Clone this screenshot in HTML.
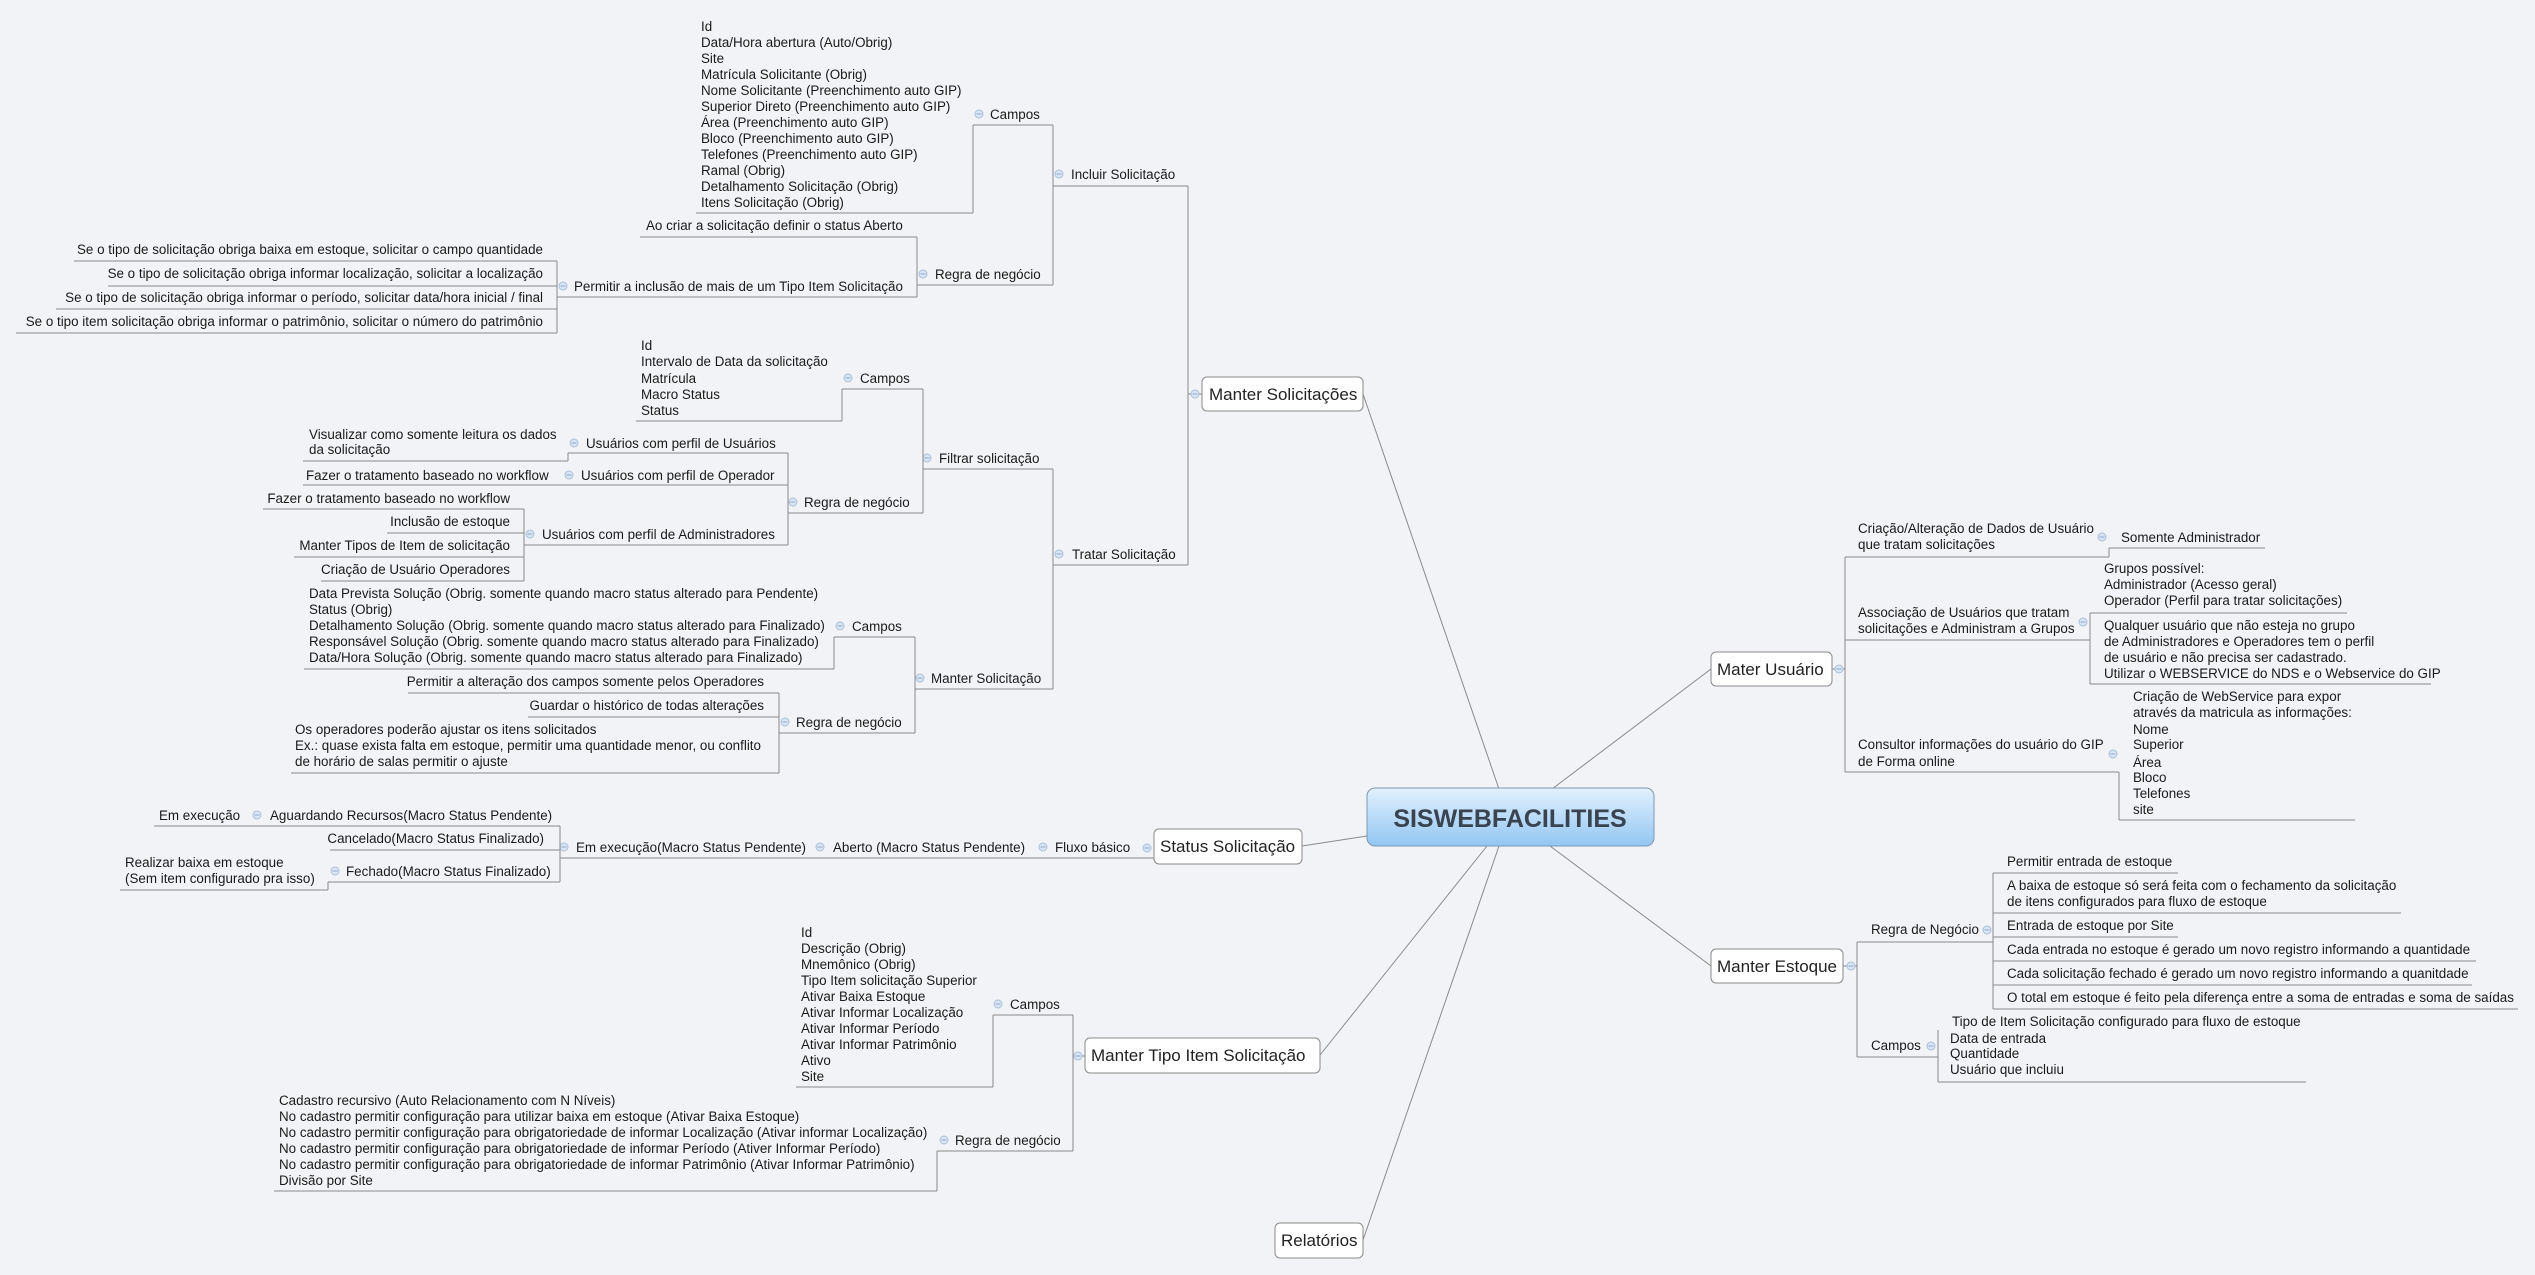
<!DOCTYPE html>
<html><head><meta charset="utf-8"><style>
html,body{margin:0;padding:0;background:#f2f3f6;}
svg{display:block;}
text{font-family:"Liberation Sans",sans-serif;font-size:13.4px;fill:#1a1a1a;}
.b{font-size:17px;fill:#222;}
.e{text-anchor:end;}
line,polyline{stroke:#8a8a8a;stroke-width:1;fill:none;}
.c{fill:#d9e5f3;stroke:#a8c0dc;stroke-width:1;}
.m{stroke:#8fa9c9;}
.box{fill:#fff;stroke:#8a8a8a;stroke-width:1;}
</style></head><body>
<svg width="2535" height="1275" viewBox="0 0 2535 1275" xmlns="http://www.w3.org/2000/svg">
<defs>
<linearGradient id="g" x1="0" y1="0" x2="0" y2="1"><stop offset="0" stop-color="#e2f1fe"/><stop offset="1" stop-color="#92c6f2"/></linearGradient>
<g id="ci"><circle class="c" r="4"/><line class="m" x1="-2.5" y1="0" x2="2.5" y2="0"/></g>
</defs>

<line x1="1363" y1="394" x2="1499" y2="789"/>
<line x1="1711" y1="669" x2="1552" y2="789"/>
<line x1="1302" y1="846" x2="1367" y2="836"/>
<line x1="1320" y1="1055" x2="1487" y2="846"/>
<line x1="1363" y1="1240" x2="1499" y2="846"/>
<line x1="1711" y1="966" x2="1550" y2="846"/>

<rect x="1367" y="788" width="287" height="58" rx="8" fill="url(#g)" stroke="#7d98b3"/>
<text x="1510" y="827" text-anchor="middle" style="font-size:25px;font-weight:bold;fill:#3a4450">SISWEBFACILITIES</text>

<rect class="box" x="1202" y="377" width="161" height="34" rx="5"/><text class="b" x="1209" y="400">Manter Solicitações</text>
<rect class="box" x="1154" y="829" width="148" height="35" rx="5"/><text class="b" x="1160" y="852">Status Solicitação</text>
<rect class="box" x="1085" y="1038" width="235" height="35" rx="5"/><text class="b" x="1091" y="1061">Manter Tipo Item Solicitação</text>
<rect class="box" x="1275" y="1223" width="88" height="35" rx="5"/><text class="b" x="1281" y="1246">Relatórios</text>
<rect class="box" x="1711" y="652" width="121" height="34" rx="5"/><text class="b" x="1717" y="675">Mater Usuário</text>
<rect class="box" x="1711" y="949" width="132" height="34" rx="5"/><text class="b" x="1717" y="972">Manter Estoque</text>

<line x1="1188" y1="186" x2="1188" y2="565"/>
<line x1="1188" y1="394" x2="1202" y2="394"/>
<use href="#ci" x="1195" y="394"/>
<line x1="1053" y1="186" x2="1188" y2="186"/>
<use href="#ci" x="1059" y="174"/><text x="1071" y="179">Incluir Solicitação</text>
<line x1="1053" y1="125" x2="1053" y2="285"/>
<line x1="973" y1="125" x2="1053" y2="125"/>
<use href="#ci" x="979" y="114"/><text x="990" y="119">Campos</text>
<line x1="973" y1="125" x2="973" y2="213"/>
<line x1="696" y1="213" x2="973" y2="213"/>
<text x="701" y="31">Id</text>
<text x="701" y="47">Data/Hora abertura (Auto/Obrig)</text>
<text x="701" y="63">Site</text>
<text x="701" y="79">Matrícula Solicitante (Obrig)</text>
<text x="701" y="95">Nome Solicitante (Preenchimento auto GIP)</text>
<text x="701" y="111">Superior Direto (Preenchimento auto GIP)</text>
<text x="701" y="127">Área (Preenchimento auto GIP)</text>
<text x="701" y="143">Bloco (Preenchimento auto GIP)</text>
<text x="701" y="159">Telefones (Preenchimento auto GIP)</text>
<text x="701" y="175">Ramal (Obrig)</text>
<text x="701" y="191">Detalhamento Solicitação (Obrig)</text>
<text x="701" y="207">Itens Solicitação (Obrig)</text>
<line x1="917" y1="285" x2="1053" y2="285"/>
<use href="#ci" x="923" y="274"/><text x="935" y="279">Regra de negócio</text>
<line x1="917" y1="237" x2="917" y2="297"/>
<line x1="640" y1="237" x2="917" y2="237"/>
<text x="646" y="230">Ao criar a solicitação definir o status Aberto</text>
<line x1="557" y1="297" x2="917" y2="297"/>
<use href="#ci" x="563" y="286"/><text x="574" y="291">Permitir a inclusão de mais de um Tipo Item Solicitação</text>
<line x1="557" y1="261" x2="557" y2="333"/>
<line x1="74" y1="261" x2="557" y2="261"/><text class="e" x="543" y="254">Se o tipo de solicitação obriga baixa em estoque, solicitar o campo quantidade</text>
<line x1="108" y1="286" x2="557" y2="286"/><text class="e" x="543" y="278">Se o tipo de solicitação obriga informar localização, solicitar a localização</text>
<line x1="56" y1="309" x2="557" y2="309"/><text class="e" x="543" y="302">Se o tipo de solicitação obriga informar o período, solicitar data/hora inicial / final</text>
<line x1="16" y1="333" x2="557" y2="333"/><text class="e" x="543" y="326">Se o tipo item solicitação obriga informar o patrimônio, solicitar o número do patrimônio</text>

<line x1="1053" y1="565" x2="1188" y2="565"/>
<use href="#ci" x="1059" y="554"/><text x="1072" y="559">Tratar Solicitação</text>
<line x1="1053" y1="469" x2="1053" y2="689"/>
<line x1="923" y1="469" x2="1053" y2="469"/>
<use href="#ci" x="927" y="458"/><text x="939" y="463">Filtrar solicitação</text>
<line x1="923" y1="389" x2="923" y2="513"/>
<line x1="842" y1="389" x2="923" y2="389"/>
<use href="#ci" x="848" y="378"/><text x="860" y="383">Campos</text>
<line x1="842" y1="389" x2="842" y2="421"/>
<line x1="636" y1="421" x2="842" y2="421"/>
<text x="641" y="350">Id</text>
<text x="641" y="366">Intervalo de Data da solicitação</text>
<text x="641" y="383">Matrícula</text>
<text x="641" y="399">Macro Status</text>
<text x="641" y="415">Status</text>
<line x1="788" y1="513" x2="923" y2="513"/>
<use href="#ci" x="793" y="502"/><text x="804" y="507">Regra de negócio</text>
<line x1="788" y1="453" x2="788" y2="545"/>
<line x1="568" y1="453" x2="788" y2="453"/>
<use href="#ci" x="574" y="443"/><text x="586" y="448">Usuários com perfil de Usuários</text>
<line x1="568" y1="453" x2="568" y2="461"/>
<line x1="303" y1="461" x2="568" y2="461"/>
<text x="309" y="439">Visualizar como somente leitura os dados</text>
<text x="309" y="454">da solicitação</text>
<line x1="303" y1="485" x2="788" y2="485"/>
<use href="#ci" x="569" y="475"/><text x="581" y="480">Usuários com perfil de Operador</text>
<text x="306" y="480">Fazer o tratamento baseado no workflow</text>
<line x1="524" y1="545" x2="788" y2="545"/>
<use href="#ci" x="530" y="534"/><text x="542" y="539">Usuários com perfil de Administradores</text>
<line x1="524" y1="509" x2="524" y2="581"/>
<line x1="263" y1="509" x2="524" y2="509"/><text class="e" x="510" y="503">Fazer o tratamento baseado no workflow</text>
<line x1="387" y1="533" x2="524" y2="533"/><text class="e" x="510" y="526">Inclusão de estoque</text>
<line x1="294" y1="557" x2="524" y2="557"/><text class="e" x="510" y="550">Manter Tipos de Item de solicitação</text>
<line x1="321" y1="581" x2="524" y2="581"/><text class="e" x="510" y="574">Criação de Usuário Operadores</text>

<line x1="915" y1="689" x2="1053" y2="689"/>
<use href="#ci" x="920" y="678"/><text x="931" y="683">Manter Solicitação</text>
<line x1="915" y1="637" x2="915" y2="733"/>
<line x1="834" y1="637" x2="915" y2="637"/>
<use href="#ci" x="840" y="626"/><text x="852" y="631">Campos</text>
<line x1="834" y1="637" x2="834" y2="669"/>
<line x1="304" y1="669" x2="834" y2="669"/>
<text x="309" y="598">Data Prevista Solução (Obrig. somente quando macro status alterado para Pendente)</text>
<text x="309" y="614">Status (Obrig)</text>
<text x="309" y="630">Detalhamento Solução (Obrig. somente quando macro status alterado para Finalizado)</text>
<text x="309" y="646">Responsável Solução (Obrig. somente quando macro status alterado para Finalizado)</text>
<text x="309" y="662">Data/Hora Solução (Obrig. somente quando macro status alterado para Finalizado)</text>
<line x1="779" y1="733" x2="915" y2="733"/>
<use href="#ci" x="785" y="722"/><text x="796" y="727">Regra de negócio</text>
<line x1="779" y1="693" x2="779" y2="773"/>
<line x1="408" y1="693" x2="779" y2="693"/><text class="e" x="764" y="686">Permitir a alteração dos campos somente pelos Operadores</text>
<line x1="528" y1="717" x2="779" y2="717"/><text class="e" x="764" y="710">Guardar o histórico de todas alterações</text>
<line x1="291" y1="773" x2="779" y2="773"/>
<text x="295" y="734">Os operadores poderão ajustar os itens solicitados</text>
<text x="295" y="750">Ex.: quase exista falta em estoque, permitir uma quantidade menor, ou conflito</text>
<text x="295" y="766">de horário de salas permitir o ajuste</text>

<line x1="560" y1="858" x2="1154" y2="858"/>
<use href="#ci" x="1147" y="848"/>
<use href="#ci" x="1043" y="847"/><text x="1055" y="852">Fluxo básico</text>
<use href="#ci" x="820" y="847"/><text x="833" y="852">Aberto (Macro Status Pendente)</text>
<use href="#ci" x="564" y="847"/><text x="576" y="852">Em execução(Macro Status Pendente)</text>
<line x1="560" y1="826" x2="560" y2="882"/>
<line x1="154" y1="826" x2="560" y2="826"/>
<use href="#ci" x="257" y="815"/><text x="270" y="820">Aguardando Recursos(Macro Status Pendente)</text>
<text x="159" y="820">Em execução</text>
<line x1="330" y1="850" x2="560" y2="850"/><text class="e" x="544" y="843">Cancelado(Macro Status Finalizado)</text>
<line x1="328" y1="882" x2="560" y2="882"/>
<use href="#ci" x="335" y="871"/><text x="346" y="876">Fechado(Macro Status Finalizado)</text>
<line x1="328" y1="882" x2="328" y2="890"/>
<line x1="120" y1="890" x2="328" y2="890"/>
<text x="125" y="867">Realizar baixa em estoque</text>
<text x="125" y="883">(Sem item configurado pra isso)</text>

<line x1="1073" y1="1015" x2="1073" y2="1151"/>
<line x1="1073" y1="1056" x2="1085" y2="1056"/>
<use href="#ci" x="1078" y="1056"/>
<line x1="993" y1="1015" x2="1073" y2="1015"/>
<use href="#ci" x="998" y="1004"/><text x="1010" y="1009">Campos</text>
<line x1="993" y1="1015" x2="993" y2="1087"/>
<line x1="796" y1="1087" x2="993" y2="1087"/>
<text x="801" y="937">Id</text>
<text x="801" y="953">Descrição (Obrig)</text>
<text x="801" y="969">Mnemônico (Obrig)</text>
<text x="801" y="985">Tipo Item solicitação Superior</text>
<text x="801" y="1001">Ativar Baixa Estoque</text>
<text x="801" y="1017">Ativar Informar Localização</text>
<text x="801" y="1033">Ativar Informar Período</text>
<text x="801" y="1049">Ativar Informar Patrimônio</text>
<text x="801" y="1065">Ativo</text>
<text x="801" y="1081">Site</text>
<line x1="937" y1="1151" x2="1073" y2="1151"/>
<use href="#ci" x="944" y="1140"/><text x="955" y="1145">Regra de negócio</text>
<line x1="937" y1="1151" x2="937" y2="1191"/>
<line x1="274" y1="1191" x2="937" y2="1191"/>
<text x="279" y="1105">Cadastro recursivo (Auto Relacionamento com N Níveis)</text>
<text x="279" y="1121">No cadastro permitir configuração para utilizar baixa em estoque (Ativar Baixa Estoque)</text>
<text x="279" y="1137">No cadastro permitir configuração para obrigatoriedade de informar Localização (Ativar informar Localização)</text>
<text x="279" y="1153">No cadastro permitir configuração para obrigatoriedade de informar Período (Ativer Informar Período)</text>
<text x="279" y="1169">No cadastro permitir configuração para obrigatoriedade de informar Patrimônio (Ativar Informar Patrimônio)</text>
<text x="279" y="1185">Divisão por Site</text>

<line x1="1832" y1="669" x2="1845" y2="669"/>
<use href="#ci" x="1839" y="669"/>
<line x1="1845" y1="557" x2="1845" y2="772"/>
<line x1="1845" y1="557" x2="2109" y2="557"/>
<text x="1858" y="533">Criação/Alteração de Dados de Usuário</text>
<text x="1858" y="549">que tratam solicitações</text>
<use href="#ci" x="2102" y="537"/>
<line x1="2109" y1="548" x2="2109" y2="557"/>
<line x1="2109" y1="548" x2="2265" y2="548"/>
<text x="2121" y="542">Somente Administrador</text>
<line x1="1845" y1="640" x2="2090" y2="640"/>
<text x="1858" y="617">Associação de Usuários que tratam</text>
<text x="1858" y="633">solicitações e Administram a Grupos</text>
<use href="#ci" x="2083" y="622"/>
<line x1="2090" y1="613" x2="2090" y2="684"/>
<line x1="2090" y1="613" x2="2347" y2="613"/>
<text x="2104" y="573">Grupos possível:</text>
<text x="2104" y="589">Administrador (Acesso geral)</text>
<text x="2104" y="605">Operador (Perfil para tratar solicitações)</text>
<line x1="2090" y1="684" x2="2431" y2="684"/>
<text x="2104" y="630">Qualquer usuário que não esteja no grupo</text>
<text x="2104" y="646">de Administradores e Operadores tem o perfil</text>
<text x="2104" y="662">de usuário e não precisa ser cadastrado.</text>
<text x="2104" y="678">Utilizar o WEBSERVICE do NDS e o Webservice do GIP</text>
<line x1="1845" y1="772" x2="2119" y2="772"/>
<text x="1858" y="749">Consultor informações do usuário do GIP</text>
<text x="1858" y="766">de Forma online</text>
<use href="#ci" x="2113" y="754"/>
<line x1="2119" y1="772" x2="2119" y2="820"/>
<line x1="2119" y1="820" x2="2355" y2="820"/>
<text x="2133" y="701">Criação de WebService para expor</text>
<text x="2133" y="717">através da matricula as informações:</text>
<text x="2133" y="734">Nome</text>
<text x="2133" y="749">Superior</text>
<text x="2133" y="767">Área</text>
<text x="2133" y="782">Bloco</text>
<text x="2133" y="798">Telefones</text>
<text x="2133" y="814">site</text>

<line x1="1843" y1="966" x2="1857" y2="966"/>
<use href="#ci" x="1851" y="966"/>
<line x1="1857" y1="942" x2="1857" y2="1057"/>
<line x1="1857" y1="942" x2="1993" y2="942"/>
<text x="1871" y="934">Regra de Negócio</text>
<use href="#ci" x="1987" y="930"/>
<line x1="1993" y1="873" x2="1993" y2="1009"/>
<line x1="1993" y1="873" x2="2178" y2="873"/><text x="2007" y="866">Permitir entrada de estoque</text>
<line x1="1993" y1="913" x2="2401" y2="913"/><text x="2007" y="890">A baixa de estoque só será feita com o fechamento da solicitação</text><text x="2007" y="906">de itens configurados para fluxo de estoque</text>
<line x1="1993" y1="937" x2="2178" y2="937"/><text x="2007" y="930">Entrada de estoque por Site</text>
<line x1="1993" y1="961" x2="2476" y2="961"/><text x="2007" y="954">Cada entrada no estoque é gerado um novo registro informando a quantidade</text>
<line x1="1993" y1="985" x2="2472" y2="985"/><text x="2007" y="978">Cada solicitação fechado é gerado um novo registro informando a quanitdade</text>
<line x1="1993" y1="1009" x2="2518" y2="1009"/><text x="2007" y="1002">O total em estoque é feito pela diferença entre a soma de entradas e soma de saídas</text>
<line x1="1857" y1="1057" x2="1938" y2="1057"/>
<text x="1871" y="1050">Campos</text>
<use href="#ci" x="1931" y="1046"/>
<line x1="1938" y1="1030" x2="1938" y2="1082"/>
<line x1="1938" y1="1082" x2="2306" y2="1082"/>
<text x="1952" y="1026">Tipo de Item Solicitação configurado para fluxo de estoque</text>
<text x="1950" y="1043">Data de entrada</text>
<text x="1950" y="1058">Quantidade</text>
<text x="1950" y="1074">Usuário que incluiu</text>
</svg>
</body></html>
